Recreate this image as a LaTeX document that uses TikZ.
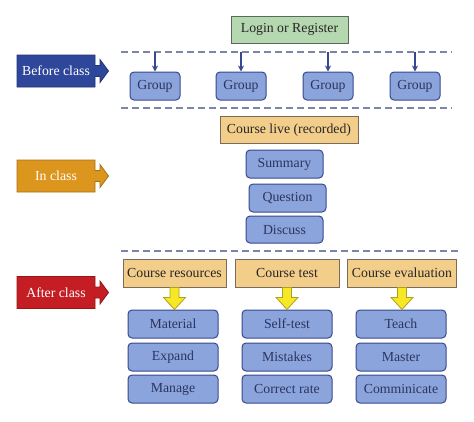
\documentclass[tikz,border=0pt]{standalone}
\usepackage{fontspec}
\setmainfont{Liberation Serif}
\usetikzlibrary{calc,arrows.meta}
\definecolor{bfill}{HTML}{8BA4DC}
\definecolor{bline}{HTML}{36498F}
\definecolor{btext}{HTML}{2B3560}
\definecolor{tfill}{HTML}{F3CE8B}
\definecolor{tline}{HTML}{7A6B5A}
\definecolor{gfill}{HTML}{B5D8B0}
\definecolor{gline}{HTML}{5A6A5A}
\definecolor{dline}{HTML}{7A85A8}
\definecolor{beforec}{HTML}{2E479A}
\definecolor{inc}{HTML}{DC961E}
\definecolor{afterc}{HTML}{C41E24}
\definecolor{yfill}{HTML}{F7E825}
\definecolor{yline}{HTML}{B0A020}
\tikzset{
  base/.style={inner sep=0pt, font=\fontsize{13.8}{15}\selectfont, anchor=center},
  bluebox/.style={base, rounded corners=4pt, fill=bfill, draw=bline, line width=1pt, text=btext, minimum width=90pt, minimum height=28pt},
  tanbox/.style={base, fill=tfill, draw=tline, line width=0.9pt, text=black!85, minimum height=28pt},
  greenbox/.style={base, fill=gfill, draw=gline, line width=0.9pt, text=black!85, minimum height=27pt},
  phasebox/.style={base, text=white, minimum width=78pt, minimum height=32pt},
  sepline/.style={draw=dline, line width=1.2pt, dash pattern=on 7pt off 4pt},
  grouparrow/.style={draw=bline, line width=1.5pt, -{Stealth[length=6pt,width=6pt]}},
  yarrow/.style={fill=yfill, draw=yline, line width=0.8pt},
}
\begin{document}
\begin{tikzpicture}[x=1pt,y=-1pt]
\useasboundingbox (0,0) rectangle (474,421);

% separators
\coordinate (s1a) at (121,52);  \coordinate (s1b) at (452,52);
\coordinate (s2a) at (121,108); \coordinate (s2b) at (452,108);
\coordinate (s3a) at (121,251); \coordinate (s3b) at (458,251);
\draw[sepline] (s1a) -- (s1b);
\draw[sepline] (s2a) -- (s2b);
\draw[sepline] (s3a) -- (s3b);

% top
\node[greenbox, minimum width=117pt] (login) at (289.5,29.5) {Login or Register};

% groups
\foreach \i/\x in {1/155,2/241,3/328,4/415}{
  \node[bluebox, minimum width=50pt] (g\i) at (\x,86) {Group};
  \coordinate (gt\i) at (\x,52);
  \draw[grouparrow] (gt\i) -- (g\i.north);
}

% in class
\node[tanbox, minimum width=138pt, minimum height=27pt] (live) at (289,130) {Course live (recorded)};
\node[bluebox, minimum width=77pt] (sum) at (284.5,164) {Summary};
\node[bluebox, minimum width=77pt] (que) at (287.5,198) {Question};
\node[bluebox, minimum width=77pt, minimum height=27pt] (dis) at (284.5,229.5) {Discuss};

% after class
\node[tanbox, minimum width=103pt] (res) at (174.5,273) {Course resources};
\node[tanbox, minimum width=104pt] (tst) at (287,273) {Course test};
\node[tanbox, minimum width=109pt] (eva) at (402,273) {Course evaluation};

\node[bluebox] (mat) at (173,324) {Material};
\node[bluebox] (exp) at (173,357) {Expand};
\node[bluebox] (man) at (173,389) {Manage};
\node[bluebox] (slf) at (287,324) {Self-test};
\node[bluebox] (mis) at (287,357) {Mistakes};
\node[bluebox] (cor) at (287,389) {Correct rate};
\node[bluebox] (tea) at (401,324) {Teach};
\node[bluebox] (mas) at (401,357) {Master};
\node[bluebox] (com) at (401,389) {Comminicate};

% yellow arrows
\foreach \a/\b in {res/mat,tst/slf,eva/tea}{
  \path[yarrow] ($(\a.south)+(-4.5,0)$) -- ($(\a.south)+(-4.5,10)$) -- ($(\a.south)+(-11,10)$)
     -- ($(\a.south)+(0,22)$) -- ($(\a.south)+(11,10)$) -- ($(\a.south)+(4.5,10)$)
     -- ($(\a.south)+(4.5,0)$) -- cycle;
}

% phase labels with pointers
\foreach \n/\y/\c/\t in {pb/71/beforec/Before class, pi/176/inc/In class, pa/292.5/afterc/After class}{
  \path[fill=\c, draw=\c!75!black, line width=0.8pt]
    ($(\y*0,\y)+(17,-16)$) -- ($(\y*0,\y)+(95,-16)$) -- ($(\y*0,\y)+(95,-5.5)$)
    -- ($(\y*0,\y)+(100,-5.5)$) -- ($(\y*0,\y)+(100,-11.5)$) -- ($(\y*0,\y)+(108.5,0)$)
    -- ($(\y*0,\y)+(100,11.5)$) -- ($(\y*0,\y)+(100,5.5)$) -- ($(\y*0,\y)+(95,5.5)$)
    -- ($(\y*0,\y)+(95,16)$) -- ($(\y*0,\y)+(17,16)$) -- cycle;
  \node[phasebox] (\n) at (56,\y) {\t};
}
\end{tikzpicture}
\end{document}
